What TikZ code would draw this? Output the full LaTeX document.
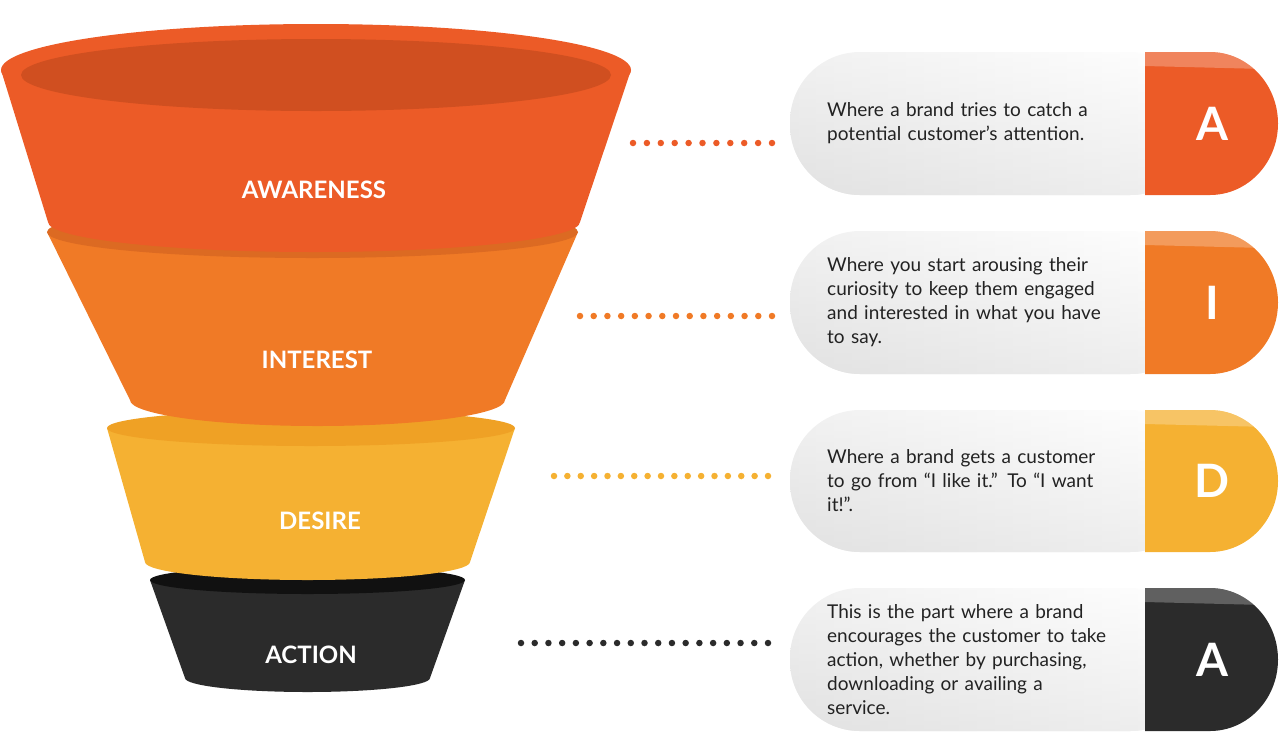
\documentclass[tikz,border=0pt]{standalone}
\usepackage{fontspec}
\setmainfont{Lato}
\usetikzlibrary{shadings}
\definecolor{cA}{HTML}{EC5B27}
\definecolor{cAd}{HTML}{D04F20}
\definecolor{cI}{HTML}{F07A26}
\definecolor{cId}{HTML}{DC6A22}
\definecolor{cD}{HTML}{F5B132}
\definecolor{cDd}{HTML}{EFA125}
\definecolor{cK}{HTML}{2B2B2B}
\definecolor{cKd}{HTML}{111111}
\definecolor{txt}{HTML}{222222}
\tikzset{
 lab/.style={text=white,font=\bfseries\fontsize{24}{28}\selectfont},
 desc/.style={text=txt,font=\fontsize{19}{24}\selectfont,align=left,text width=330pt,anchor=west,inner sep=0pt},
 letter/.style={text=white,font=\fontsize{46}{52}\selectfont\bfseries},
 dot/.style={circle,inner sep=0pt,minimum size=6.5pt}
}
\newcommand{\seg}[9]{% xl yt xr xbl yb xbr ry color dark
 \fill[#8] (#1,#2) -- (#4,#5) arc[start angle=180,end angle=0,x radius={(#6-#4)/2},y radius=#7] -- (#3,#2) -- cycle;
 \fill[#9] ({(#1+#3)/2},#2) ellipse[x radius={(#3-#1)/2},y radius=#7];
}
\newcommand{\pill}[6]{% ytop ybot color text letter name
 \shade[top color=white, bottom color=gray!30, rounded corners=70pt] (790,#1) rectangle (1200,#2);
 \shade[left color=gray!18, right color=white, opacity=0.6, rounded corners=70pt] (790,#1) rectangle (1200,#2);
 \fill[#3] (1145,#1) -- (1210,#1) arc[start angle=-90,end angle=90,x radius=68,y radius={(#2-#1)/2}] -- (1145,#2) -- cycle;
 \fill[white,opacity=0.25] (1145,#1) -- (1210,#1) arc[start angle=-90,end angle=-50,x radius=68,y radius={(#2-#1)/2}] -- (1145,{#1+14}) -- cycle;
 \node[desc] (#6) at (827,{(#1+#2)/2}) {#4};
 \node[letter] (#6l) at (1212,{(#1+#2)/2}) {#5};
}
\newcommand{\dotrow}[5]{% x1 x2 y n color
 \foreach \i in {0,...,#4} \node[dot,fill=#5] at ({#1+(#2-#1)*\i/#4},#3) {};
}
\begin{document}
\begin{tikzpicture}[x=1pt,y=-1pt]
\useasboundingbox (0,0) rectangle (1280,732);
% action
\seg{150}{580}{465}{185}{678}{430}{14}{cK}{cKd}
% desire
\seg{107}{428}{515}{145}{562}{470}{18}{cD}{cDd}
% interest
\seg{47}{232}{578}{130}{400}{505}{26}{cI}{cId}
% awareness
\fill[cA] (1,70) -- (48,222) arc[start angle=180,end angle=0,x radius=266,y radius=30] -- (631,70) -- cycle;
\fill[cA] (316,70) ellipse[x radius=315,y radius=46];
\fill[cAd] (316,75) ellipse[x radius=295,y radius=36];
\node[lab] (aw) at (314,190) {AWARENESS};
\node[lab] (in) at (317,360) {INTEREST};
\node[lab] (de) at (320,521) {DESIRE};
\node[lab] (ac) at (311,655) {ACTION};
\pill{52}{195}{cA}{Where a brand tries to catch a\\potential customer’s attention.}{A}{p1}
\pill{231}{374}{cI}{Where you start arousing their\\curiosity to keep them engaged\\and interested in what you have\\to say.}{I}{p2}
\pill{410}{552}{cD}{Where a brand gets a customer\\to go from “I like it.” To “I want\\it!”.}{D}{p3}
\pill{588}{731}{cK}{This is the part where a brand\\encourages the customer to take\\action, whether by purchasing,\\downloading or availing a\\service.}{A}{p4}
\dotrow{633}{772}{143}{10}{cA}
\dotrow{580}{772}{316}{14}{cI}
\dotrow{554}{768}{476}{16}{cD}
\dotrow{521}{768}{643}{18}{cK}
\end{tikzpicture}
\end{document}
